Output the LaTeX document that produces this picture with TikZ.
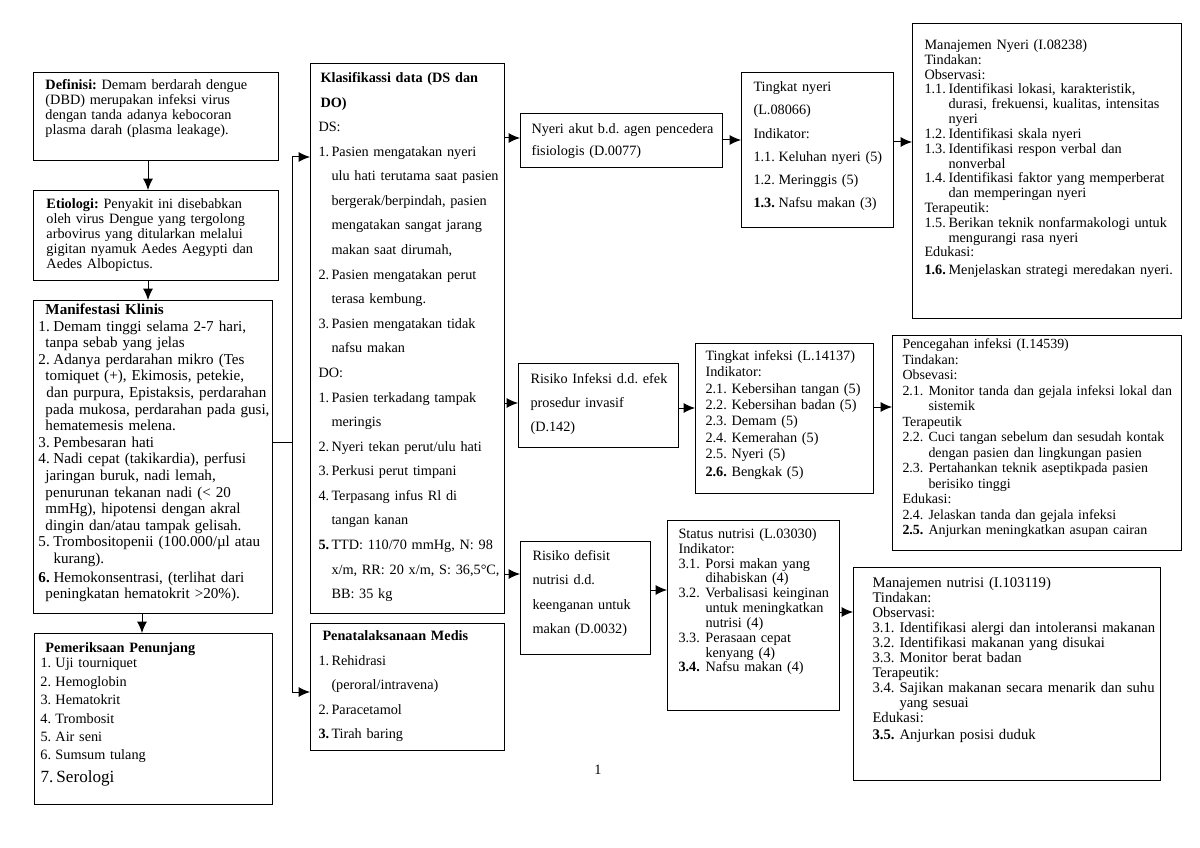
\documentclass[tikz,border=0pt]{standalone}
\usepackage{fontspec}
\setmainfont{Liberation Serif}
\usepackage{tikz}
\usetikzlibrary{arrows.meta}

\newdimen\pxl
\pxl=0.7017pt
\newcommand{\nr}[2]{\makebox[#1\pxl][l]{#2}}
\newcommand{\ind}[1]{\hspace*{#1\pxl}}
\frenchspacing

\begin{document}
\begin{tikzpicture}[x=0.7017pt, y=-0.7017pt,
  box/.style={draw, line width=0.7pt, anchor=north west, inner sep=0pt},
  pad/.style={execute at begin node={\raggedright\frenchspacing\leftskip=#1\pxl\rightskip=0pt plus 1fil minus 14pt}},
  arr/.style={-{Latex[length=8pt,width=7pt]}, line width=0.7pt}]
\useasboundingbox (0,0) rectangle (1200,848);

% left column
\node[box, pad=12, text width=245\pxl, text height=17\pxl, text depth=71\pxl,
  font={\fontsize{10}{10.5}\selectfont}] (def) at (33,72) {%
\textbf{Definisi:} Demam berdarah dengue\\
(DBD) merupakan infeksi virus\\
dengan tanda adanya kebocoran\\
plasma darah (plasma leakage).};
\node[box, pad=13, text width=245\pxl, text height=18\pxl, text depth=72\pxl,
  font={\fontsize{10}{10.5}\selectfont}] (eti) at (33,190) {%
\textbf{Etiologi:} Penyakit ini disebabkan\\
oleh virus Dengue yang tergolong\\
arbovirus yang ditularkan melalui\\
gigitan nyamuk Aedes Aegypti dan\\
Aedes Albopictus.};
\node[box, pad=5, text width=239\pxl, text height=14\pxl, text depth=299\pxl,
  font={\fontsize{10.6}{11.65}\selectfont}] (man) at (33,300) {%
\ind{7}\textbf{Manifestasi Klinis}\\
\nr{15}{1.}Demam tinggi selama 2-7 hari,\\
\ind{7}tanpa sebab yang jelas\\
\nr{15}{2.}Adanya perdarahan mikro (Tes\\
\ind{7}tomiquet (+), Ekimosis, petekie,\\
\ind{8}dan purpura, Epistaksis, perdarahan\\
\ind{7}pada mukosa, perdarahan pada gusi,\\
\ind{7}hematemesis melena.\\
\nr{15}{3.}Pembesaran hati\\
\nr{15}{4.}Nadi cepat (takikardia), perfusi\\
\ind{7}jaringan buruk, nadi lemah,\\
\ind{7}penurunan tekanan nadi (< 20\\
\ind{7}mmHg), hipotensi dengan akral\\
\ind{7}dingin dan/atau tampak gelisah.\\
\nr{15}{5.}Trombositopenii (100.000/µl atau\\
\ind{15}kurang).\\[2\pxl]
\nr{15}{\textbf{6.}}Hemokonsentrasi, (terlihat dari\\
\ind{7}peningkatan hematokrit >20\%).};
\node[box, pad=6, text width=238\pxl, text height=19\pxl, text depth=152\pxl,
  font={\fontsize{10}{12.9}\selectfont}] (pem) at (34,633) {%
\ind{5}\textbf{Pemeriksaan Penunjang}\\[-3\pxl]
\nr{15}{1.}Uji tourniquet\\
\nr{15}{2.}Hemoglobin\\
\nr{15}{3.}Hematokrit\\
\nr{15}{4.}Trombosit\\
\nr{15}{5.}Air seni\\
\nr{15}{6.}Sumsum tulang\\[4\pxl]
{\fontsize{12}{12.9}\selectfont\nr{16}{7.}Serologi}};

% data and medical care
\node[box, pad=8, text width=194\pxl, text height=19\pxl, text depth=531\pxl,
  font={\fontsize{10}{17.25}\selectfont}] (kla) at (310,63) {%
\ind{2}\textbf{Klasifikassi data (DS dan}\\
\ind{2}\textbf{DO)}\\
DS:\\
\nr{13}{1.}Pasien mengatakan nyeri\\
\ind{13}ulu hati terutama saat pasien\\
\ind{13}bergerak/berpindah, pasien\\
\ind{13}mengatakan sangat jarang\\
\ind{13}makan saat dirumah,\\
\nr{13}{2.}Pasien mengatakan perut\\
\ind{13}terasa kembung.\\
\nr{13}{3.}Pasien mengatakan tidak\\
\ind{13}nafsu makan\\
DO:\\
\nr{13}{1.}Pasien terkadang tampak\\
\ind{13}meringis\\
\nr{13}{2.}Nyeri tekan perut/ulu hati\\
\nr{13}{3.}Perkusi perut timpani\\
\nr{13}{4.}Terpasang infus Rl di\\
\ind{13}tangan kanan\\
\nr{13}{\textbf{5.}}TTD: 110/70 mmHg, N: 98\\
\ind{13}x/m, RR: 20 x/m, S: 36,5°C,\\
\ind{13}BB: 35 kg};
\node[box, pad=8, text width=194\pxl, text height=17\pxl, text depth=110\pxl,
  font={\fontsize{10}{17.25}\selectfont}] (pen) at (310,623) {%
\ind{4}\textbf{Penatalaksanaan Medis}\\
\nr{13}{1.}Rehidrasi\\
\ind{13}(peroral/intravena)\\
\nr{13}{2.}Paracetamol\\
\nr{13}{\textbf{3.}}Tirah baring};

% diagnoses
\node[box, pad=11, text width=202\pxl, text height=20\pxl, text depth=34\pxl,
  font={\fontsize{10}{15.2}\selectfont}] (nyeri) at (520,113) {%
Nyeri akut b.d. agen pencedera\\
fisiologis (D.0077)};
\node[box, pad=12, text width=160\pxl, text height=20\pxl, text depth=64\pxl,
  font={\fontsize{10}{16.85}\selectfont}] (rinf) at (518,363) {%
Risiko Infeksi d.d. efek\\
prosedur invasif\\
(D.142)};
\node[box, pad=12, text width=130\pxl, text height=19\pxl, text depth=94\pxl,
  font={\fontsize{10}{17.05}\selectfont}] (rnut) at (520,541) {%
Risiko defisit\\
nutrisi d.d.\\
keenganan untuk\\
makan (D.0032)};

% outcomes
\node[box, pad=12, text width=152\pxl, text height=19\pxl, text depth=136\pxl,
  font={\fontsize{10}{16.35}\selectfont}] (tnyeri) at (741,72) {%
Tingkat nyeri\\
(L.08066)\\
Indikator:\\
\nr{25}{1.1.}Keluhan nyeri (5)\\
\nr{25}{1.2.}Meringgis (5)\\
\nr{25}{\textbf{1.3.}}Nafsu makan (3)};
\node[box, pad=10, text width=178\pxl, text height=17\pxl, text depth=133\pxl,
  font={\fontsize{10}{11.45}\selectfont}] (tinf) at (695,343) {%
Tingkat infeksi (L.14137)\\
Indikator:\\
\nr{26}{2.1.}Kebersihan tangan (5)\\
\nr{26}{2.2.}Kebersihan badan (5)\\
\nr{26}{2.3.}Demam (5)\\
\nr{26}{2.4.}Kemerahan (5)\\
\nr{26}{2.5.}Nyeri (5)\\[2\pxl]
\nr{26}{\textbf{2.6.}}Bengkak (5)};
\node[box, pad=11, text width=172\pxl, text height=18\pxl, text depth=172\pxl,
  font={\fontsize{10}{10.4}\selectfont}] (snut) at (667,520) {%
Status nutrisi (L.03030)\\
Indikator:\\
\nr{27}{3.1.}Porsi makan yang\\
\ind{27}dihabiskan (4)\\
\nr{27}{3.2.}Verbalisasi keinginan\\
\ind{27}untuk meningkatkan\\
\ind{27}nutrisi (4)\\
\nr{27}{3.3.}Perasaan cepat\\
\ind{27}kenyang (4)\\
\nr{27}{\textbf{3.4.}}Nafsu makan (4)};

% interventions
\node[box, pad=12, text width=269\pxl, text height=26\pxl, text depth=269\pxl,
  font={\fontsize{10}{10.4}\selectfont}] (mnyeri) at (912,23) {%
Manajemen Nyeri (I.08238)\\
Tindakan:\\
Observasi:\\
\nr{24}{1.1.}Identifikasi lokasi, karakteristik,\\
\ind{24}durasi, frekuensi, kualitas, intensitas\\
\ind{24}nyeri\\
\nr{24}{1.2.}Identifikasi skala nyeri\\
\nr{24}{1.3.}Identifikasi respon verbal dan\\
\ind{24}nonverbal\\
\nr{24}{1.4.}Identifikasi faktor yang memperberat\\
\ind{24}dan memperingan nyeri\\
Terapeutik:\\
\nr{24}{1.5.}Berikan teknik nonfarmakologi untuk\\
\ind{24}mengurangi rasa nyeri\\
Edukasi:\\[3\pxl]
\nr{24}{\textbf{1.6.}}Menjelaskan strategi meredakan nyeri.};
\node[box, pad=10, text width=289\pxl, text height=13\pxl, text depth=202\pxl,
  font={\fontsize{9.8}{10.9}\selectfont}] (pinf) at (892,335) {%
Pencegahan infeksi (I.14539)\\
Tindakan:\\
Obsevasi:\\
\nr{26}{2.1.}Monitor tanda dan gejala infeksi lokal dan\\
\ind{26}sistemik\\
Terapeutik\\
\nr{26}{2.2.}Cuci tangan sebelum dan sesudah kontak\\
\ind{26}dengan pasien dan lingkungan pasien\\
\nr{26}{2.3.}Pertahankan teknik aseptikpada pasien\\
\ind{26}berisiko tinggi\\
Edukasi:\\
\nr{26}{2.4.}Jelaskan tanda dan gejala infeksi\\
\nr{26}{\textbf{2.5.}}Anjurkan meningkatkan asupan cairan};
\node[box, pad=19, text width=307\pxl, text height=20\pxl, text depth=193\pxl,
  font={\fontsize{10.3}{10.5}\selectfont}] (mnut) at (853,567) {%
Manajemen nutrisi (I.103119)\\
Tindakan:\\
Observasi:\\
\nr{27}{3.1.}Identifikasi alergi dan intoleransi makanan\\
\nr{27}{3.2.}Identifikasi makanan yang disukai\\
\nr{27}{3.3.}Monitor berat badan\\
Terapeutik:\\
\nr{27}{3.4.}Sajikan makanan secara menarik dan suhu\\
\ind{27}yang sesuai\\
Edukasi:\\[2\pxl]
\nr{27}{\textbf{3.5.}}Anjurkan posisi duduk};

\node[font={\fontsize{10}{12}\selectfont}] (pnum) at (598,770) {1};

% connectors
\draw[arr] (def.south -| 148,0) -- (eti.north -| 148,0);
\draw[arr] (eti.south -| 148,0) -- (man.north -| 148,0);
\draw[arr] (man.south -| 142,0) -- (pem.north -| 142,0);
\coordinate (bus) at (292,442);
\draw[line width=0.7pt] (man.east |- bus) -- (bus);
\draw[arr] (bus) |- (kla.west |- 0,157);
\draw[arr] (bus) |- (pen.west |- 0,692);
\draw[arr] (kla.east |- 0,138) -- (nyeri.west |- 0,138);
\draw[arr] (kla.east |- 0,403) -- (rinf.west |- 0,403);
\draw[arr] (kla.east |- 0,574) -- (rnut.west |- 0,574);
\draw[arr] (nyeri.east |- 0,140) -- (tnyeri.west |- 0,140);
\draw[arr] (tnyeri.east |- 0,142) -- (mnyeri.west |- 0,142);
\draw[arr] (rinf.east |- 0,408) -- (tinf.west |- 0,408);
\draw[arr] (tinf.east |- 0,407) -- (pinf.west |- 0,407);
\draw[arr] (rnut.east |- 0,590) -- (snut.west |- 0,590);
\draw[arr] (snut.east |- 0,612) -- (mnut.west |- 0,612);
\end{tikzpicture}
\end{document}
